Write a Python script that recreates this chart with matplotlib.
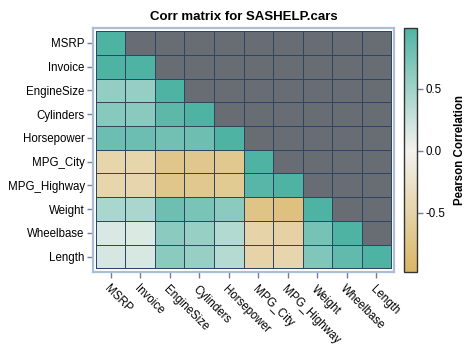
import numpy as np
import matplotlib
matplotlib.use("Agg")
import matplotlib.pyplot as plt
from matplotlib.colors import LinearSegmentedColormap

plt.rcParams['font.family'] = ['Liberation Sans', 'DejaVu Sans']
plt.rcParams['axes.unicode_minus'] = False

# variables of SASHELP.cars
names = ["MSRP", "Invoice", "EngineSize", "Cylinders", "Horsepower",
         "MPG_City", "MPG_Highway", "Weight", "Wheelbase", "Length"]

# lower triangle of the Pearson correlation matrix, row by row
r_msrp = [1.0]
r_invoice = [0.999, 1.0]
r_engine = [0.572, 0.565, 1.0]
r_cyl = [0.650, 0.645, 0.908, 1.0]
r_hp = [0.827, 0.824, 0.787, 0.810, 1.0]
r_mpgc = [-0.475, -0.470, -0.709, -0.684, -0.677, 1.0]
r_mpgh = [-0.470, -0.465, -0.717, -0.676, -0.647, 0.941, 1.0]
r_weight = [0.448, 0.442, 0.808, 0.742, 0.631, -0.738, -0.791, 1.0]
r_wheel = [0.152, 0.148, 0.636, 0.547, 0.387, -0.507, -0.525, 0.761, 1.0]
r_length = [0.172, 0.167, 0.637, 0.548, 0.382, -0.502, -0.466, 0.690, 0.889, 1.0]
rows = [r_msrp, r_invoice, r_engine, r_cyl, r_hp,
        r_mpgc, r_mpgh, r_weight, r_wheel, r_length]

n = len(names)
corr = np.full((n, n), np.nan)
for i, row in enumerate(rows):
    corr[i, :len(row)] = row
masked = np.ma.masked_invalid(corr)

cmap = LinearSegmentedColormap.from_list(
    "sasramp", ["#D9B462", "#F3F2EE", "#4FB3A4"])
cmap.set_bad("#676D72")

W, H = 474, 355
fig = plt.figure(figsize=(W / 100, H / 100), dpi=100)

def px(x0, y0, x1, y1):
    return [x0 / W, 1 - y1 / H, (x1 - x0) / W, (y1 - y0) / H]

ax = fig.add_axes(px(93, 28, 394, 272))
mesh = ax.pcolormesh(np.arange(n + 1), np.arange(n + 1), masked, cmap=cmap,
                     vmin=-1, vmax=1, edgecolors="#2F4562", linewidth=0.5)
ax.set_xlim(-0.1, n + 0.1)
ax.set_ylim(n + 0.15, -0.13)
for s in ax.spines.values():
    s.set_color("#A9BFD8")
    s.set_linewidth(1.6)
ax.set_xticks(np.arange(n) + 0.5)
ax.set_yticks(np.arange(n) + 0.5)
ax.set_yticklabels(names, fontsize=8.3)
ax.set_xticklabels(names, fontsize=8.3, rotation=-45, ha="left", va="top",
                   rotation_mode="anchor")
ax.tick_params(axis="both", length=4, width=1, color="#6B82A0", pad=2,
               labelcolor="black")
ax.tick_params(axis="x", pad=4)
ax.set_title("Corr matrix for SASHELP.cars", fontsize=9.5, fontweight="bold",
             pad=6)

cax = fig.add_axes(px(404, 28, 417, 272))
cb = fig.colorbar(mesh, cax=cax, ticks=[-0.5, 0.0, 0.5], format="%.1f")
cb.outline.set_edgecolor("#333333")
cb.outline.set_linewidth(1)
cax.tick_params(length=4, width=1, color="#6B82A0", labelsize=8.3, pad=2)
cax.set_ylim(-0.98, 0.99)
cb.set_label("Pearson Correlation", fontsize=8.3, fontweight="bold",
             labelpad=6)

fig.savefig("out.png", dpi=100)
